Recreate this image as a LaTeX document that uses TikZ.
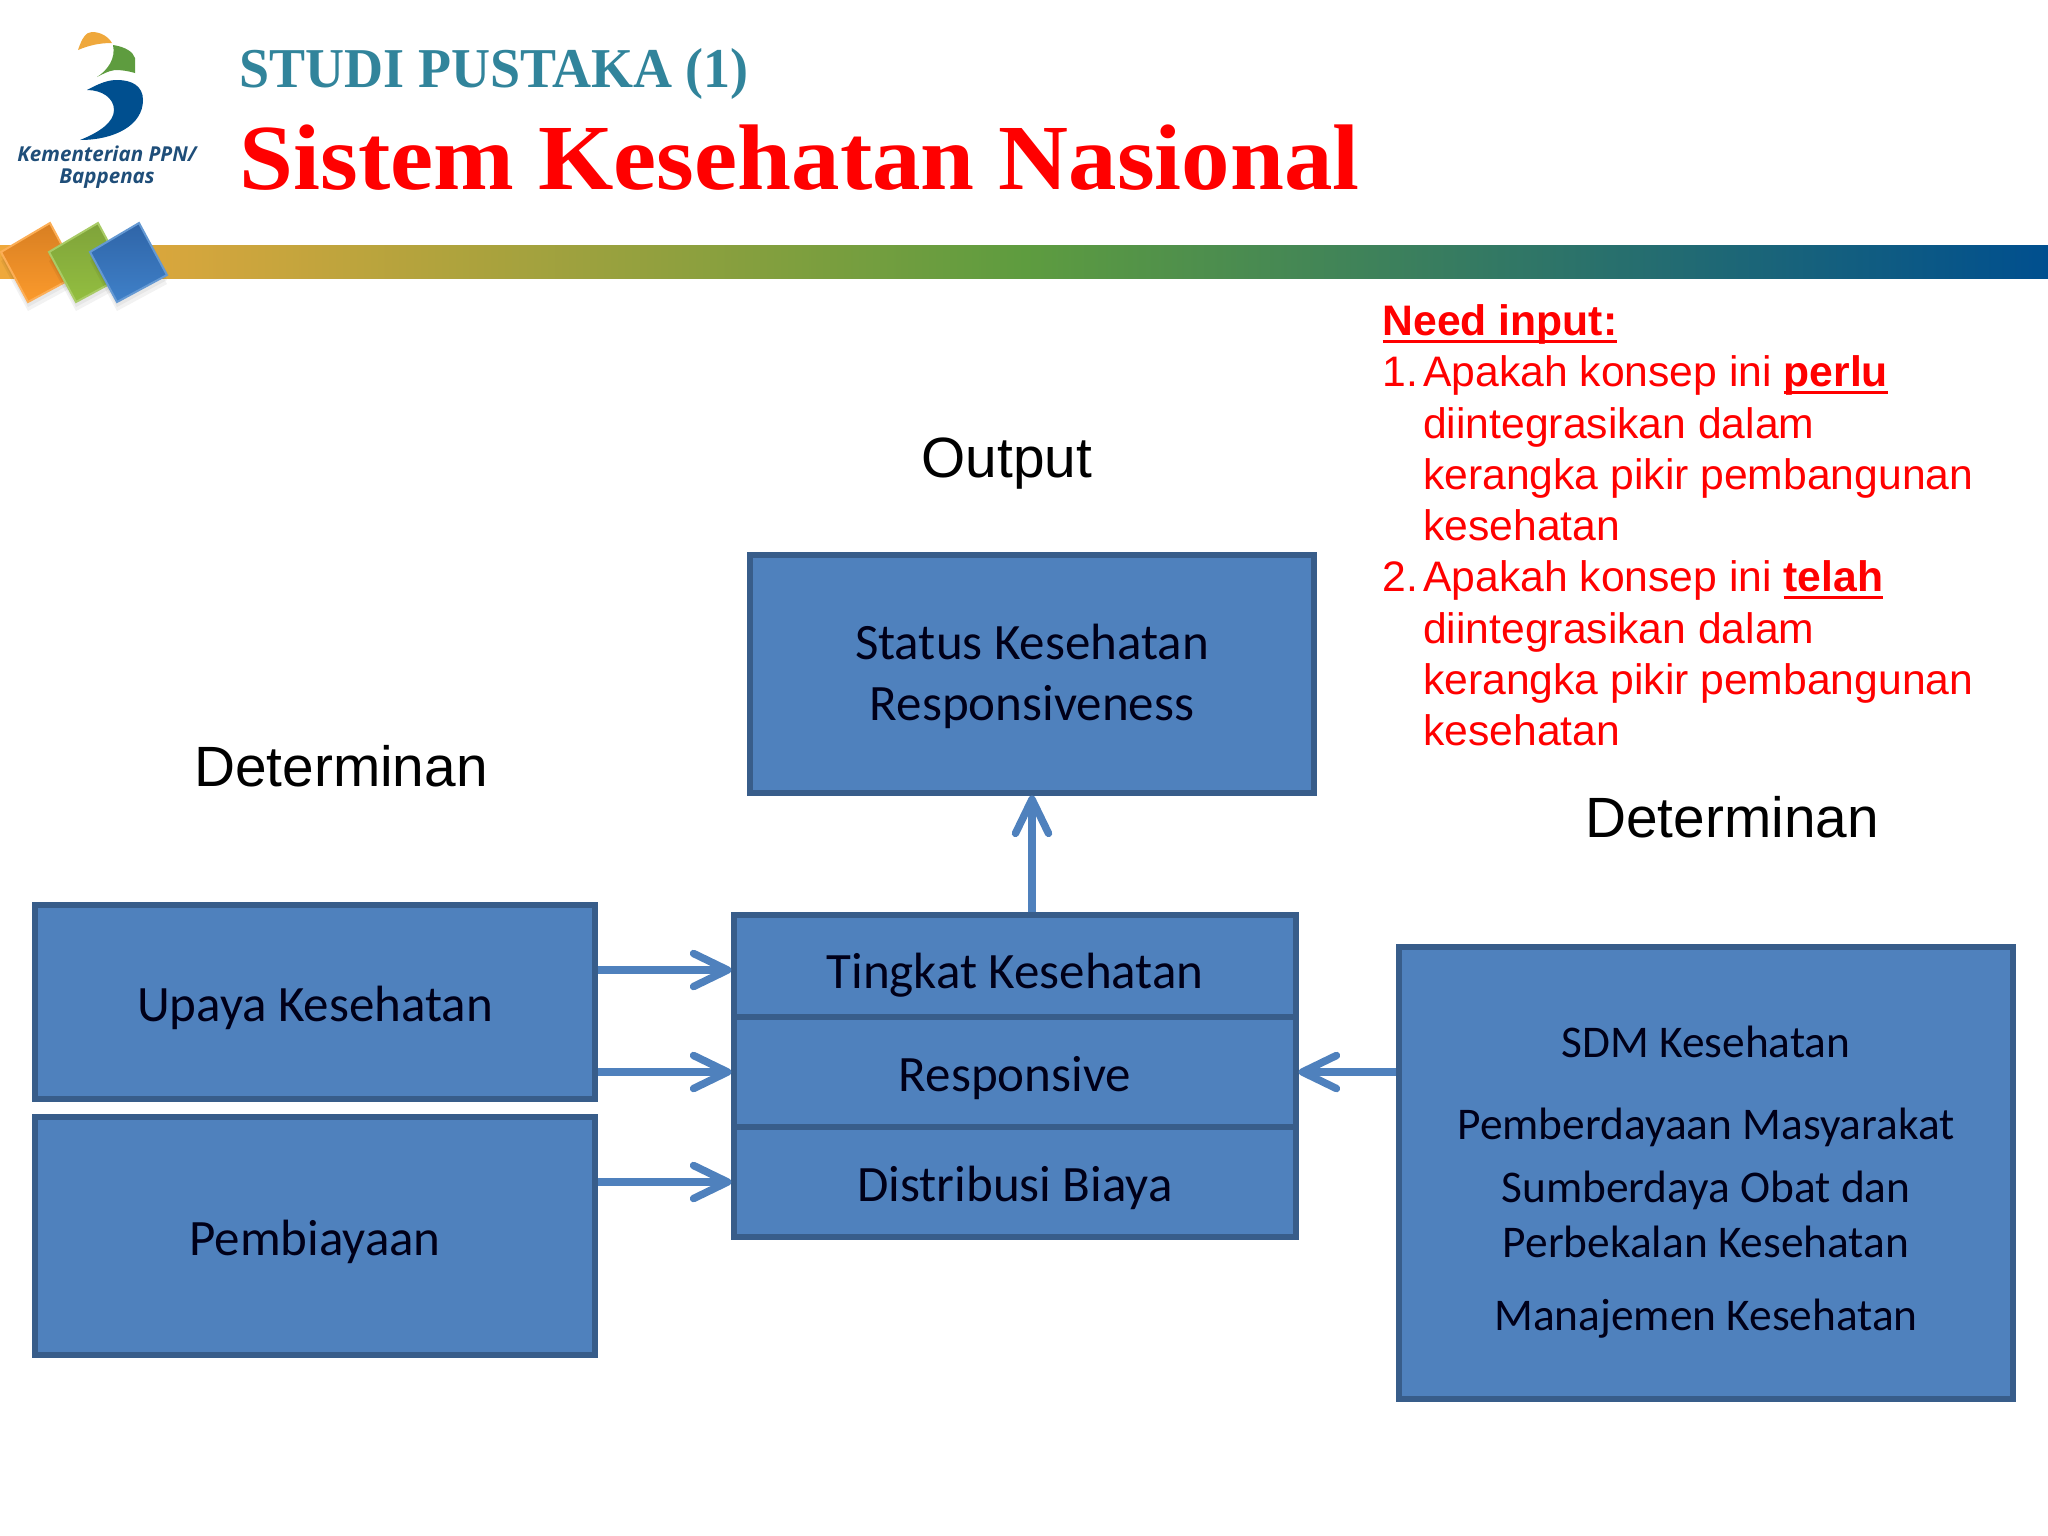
\documentclass[tikz,border=0pt]{standalone}
\usepackage{fontspec}
\setmainfont{Liberation Sans}
\newfontfamily\bodyfont{Carlito}
\newfontfamily\logofont{Open Sans}
\newfontfamily\titlefont[FakeStretch=1.04]{Liberation Serif}
\newfontfamily\subheadfont[FakeStretch=0.96]{Liberation Serif}
\usetikzlibrary{arrows.meta}
\definecolor{boxfill}{HTML}{4F81BD}
\definecolor{boxline}{HTML}{385D8A}
\definecolor{tealhead}{HTML}{31849B}
\definecolor{logoblue}{HTML}{1F4E79}
\definecolor{deepblue}{HTML}{004F8F}
\definecolor{leafgreen}{HTML}{5E9C3F}
\definecolor{sunorange}{HTML}{EFA83C}
\newcommand{\boldul}[1]{\setbox0=\hbox{\textbf{#1}}\rlap{\rule[-2pt]{\wd0}{0.8pt}}\box0}
\begin{document}
\begin{tikzpicture}[x=0.01cm,y=-0.01cm,
  blockbox/.style={draw=boxline,fill=boxfill,line width=0.06cm,inner sep=0pt,align=center,
    font=\bodyfont\fontsize{14.5}{15.6}\selectfont,text=black!90!blue,
    execute at begin node={\rule{0pt}{13.5pt}}},
  lowered/.style={execute at begin node={\rule{0pt}{#1}}},
  linkarrow/.style={draw=boxfill,line width=0.075cm,-{Straight Barb[length=0.34cm,width=0.33cm,round]}},
  headlabel/.style={font=\fontsize{16.15}{19}\selectfont,text=black},
  tile/.style={line width=0.02cm}]
\useasboundingbox (0,0) rectangle (2048,1536);
% banner
\shade[left color=sunorange,right color=deepblue,middle color=leafgreen] (0,245) rectangle (2048,278);
\foreach \dx/\topc/\botc in {0/D87F22/FB9A2C, 48/7FA33A/93BE40, 89/2F65A8/3F80C8}
{
\definecolor{tiletop}{HTML}{\topc}
\definecolor{tilebot}{HTML}{\botc}
\fill[black,opacity=0.05] (\dx+50,228) -- (\dx+1,257) -- (\dx+28,307) -- (\dx+78,280) -- cycle;
\fill[black,opacity=0.05] (\dx+50,232) -- (\dx+1,261) -- (\dx+28,311) -- (\dx+78,284) -- cycle;
\shade[tile,top color=tiletop,bottom color=tilebot,draw=tilebot!80!white] (\dx+50,223) -- (\dx+1,252) -- (\dx+28,302) -- (\dx+78,275) -- cycle;
}
% logo
\fill[sunorange] (78,50) .. controls (82,38) and (86,32) .. (92,32) .. controls (100,32) and (108,36) .. (112,43) .. controls (100,43) and (90,45) .. (78,50) -- cycle;
\fill[leafgreen] (113,45) .. controls (126,47) and (133,52) .. (135,58) -- (135,73) .. controls (128,71) and (122,70) .. (115,70) .. controls (108,71) and (103,74) .. (97,77) .. controls (108,70) and (116,58) .. (113,45) -- cycle;
\fill[deepblue] (87,90) .. controls (100,83) and (108,80) .. (117,80) .. controls (132,80) and (143,86) .. (143,100) .. controls (143,125) and (115,140) .. (80,140) .. controls (100,132) and (114,122) .. (114,110) .. controls (114,98) and (102,90) .. (87,90) -- cycle;
\node[font=\logofont\bfseries\itshape\fontsize{5.85}{6.3}\selectfont,text=logoblue,align=center] (logotext) at (107,167) {Kementerian PPN/\\Bappenas};
% titles
\node[anchor=west,inner sep=0pt,font=\subheadfont\bfseries\fontsize{16}{18}\selectfont,text=tealhead] (subtitle) at (239,74) {STUDI PUSTAKA (1)};
\node[anchor=west,inner sep=0pt,font=\titlefont\bfseries\fontsize{26.5}{30}\selectfont,text=red] (title) at (239,158) {Sistem Kesehatan Nasional};
% blocks
\node[blockbox,minimum width=5.64cm,minimum height=2.37cm,font=\bodyfont\fontsize{14.5}{17.4}\selectfont] (status) at (1032,674) {\rule{0pt}{11.4pt}Status Kesehatan\\Responsiveness};
\node[blockbox,minimum width=5.61cm,minimum height=1.01cm,lowered=15pt] (tingkat) at (1015,966) {Tingkat Kesehatan};
\node[blockbox,minimum width=5.61cm,minimum height=1.1cm] (responsive) at (1015,1072) {Responsive};
\node[blockbox,minimum width=5.61cm,minimum height=1.1cm] (distribusi) at (1015,1182) {Distribusi Biaya};
\node[blockbox,minimum width=5.6cm,minimum height=1.94cm] (upaya) at (315,1002) {Upaya Kesehatan};
\node[blockbox,minimum width=5.6cm,minimum height=2.37cm] (pembiayaan) at (315,1236) {Pembiayaan};
\node[blockbox,minimum width=6.14cm,minimum height=4.52cm,font=\bodyfont\fontsize{12.9}{15.6}\selectfont] (sumber) at (1706,1173) {\rule{0pt}{14pt}SDM Kesehatan\\[7.7pt]Pemberdayaan Masyarakat\\[2.3pt]Sumberdaya Obat dan\\Perbekalan Kesehatan\\[5.2pt]Manajemen Kesehatan};
% labels
\node[headlabel] (output) at (1007,464) {Output};
\node[headlabel] (detleft) at (341,766) {Determinan};
\node[headlabel] (detright) at (1732,817) {Determinan};
\node[anchor=north west,inner sep=0pt,align=left,text=red,font=\fontsize{12.13}{14.57}\selectfont] (needinput) at (1382,304)
{\boldul{Need input:}\\
\makebox[0.405cm][l]{1.}Apakah konsep ini \boldul{perlu}\\
\hspace*{0.405cm}diintegrasikan dalam\\
\hspace*{0.405cm}kerangka pikir pembangunan\\
\hspace*{0.405cm}kesehatan\\
\makebox[0.405cm][l]{2.}Apakah konsep ini \boldul{telah}\\
\hspace*{0.405cm}diintegrasikan dalam\\
\hspace*{0.405cm}kerangka pikir pembangunan\\
\hspace*{0.405cm}kesehatan};
% arrows
\foreach \src/\dst/\off in {upaya/tingkat/0.04, upaya/responsive/0, pembiayaan/distribusi/0}
\draw[linkarrow] ([yshift=-\off cm]\src.east |- \dst.west) -- ([yshift=-\off cm]\dst.west);
\draw[linkarrow] (sumber.west |- responsive.east) -- (responsive.east);
\draw[linkarrow] (status.south |- tingkat.north) -- (status.south);
\end{tikzpicture}
\end{document}
